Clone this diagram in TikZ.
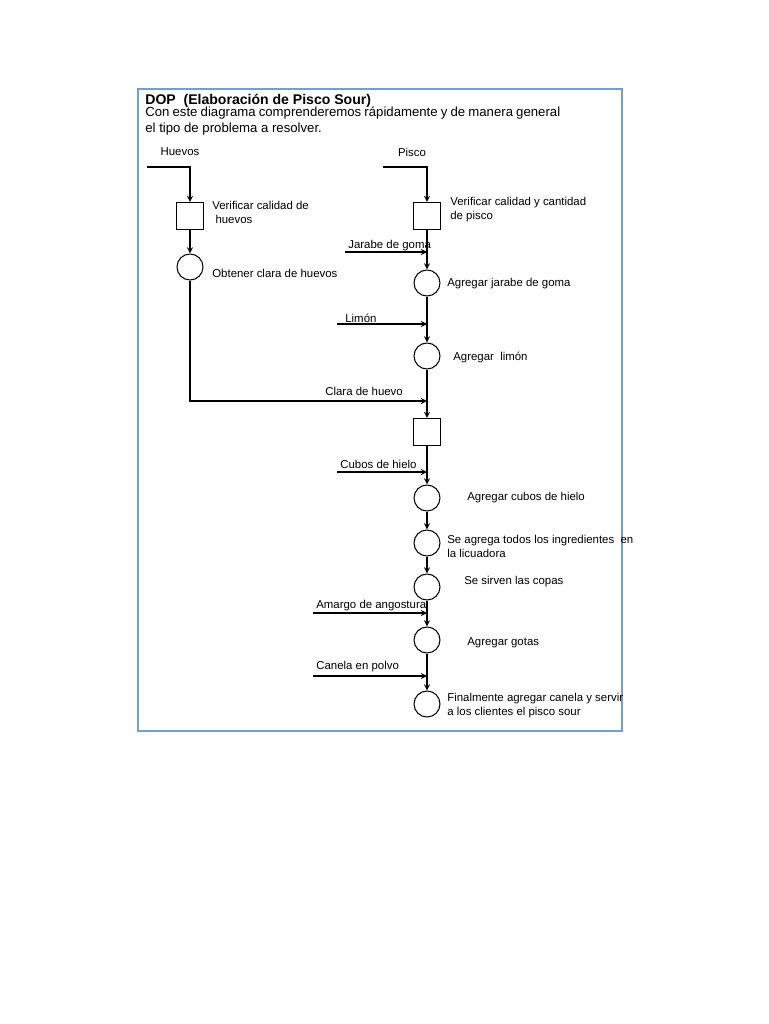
\documentclass[tikz,border=0pt]{standalone}
\usepackage{fontspec}
\setmainfont{Liberation Sans}
\begin{document}
\begin{tikzpicture}[x=0.02cm, y=-0.02cm, >=stealth, font=\fontsize{6.5}{8}\selectfont,
    op/.style={circle, draw, line width=0.6pt, minimum size=0.52cm, inner sep=0pt},
    insp/.style={rectangle, draw, line width=0.6pt, minimum size=0.54cm, inner sep=0pt},
    lbl/.style={anchor=west, align=left, inner sep=0pt},
    flow/.style={->, line width=0.6pt}]
    \useasboundingbox (0,0) rectangle (768,1024);
    \draw[color={rgb,255:red,110;green,160;blue,210}, line width=0.6pt] (138,89) rectangle (622,731);

    % Title.
    \node[lbl, font=\fontsize{8}{9}\selectfont\bfseries] (title) at (145,101) {DOP \ (Elaboración de Pisco Sour)};
    \node[lbl, font=\fontsize{7.5}{9}\selectfont, text width=8.3cm, align=justify] (intro) at (145,121)
        {Con este diagrama comprenderemos rápidamente y de manera general el tipo de problema a resolver.};

    % Left column.
    \node (huevos) at (180,152) {Huevos};
    \coordinate (h0) at (147,167);
    \coordinate (h1) at (190,167);
    \node[insp] (V_1) at (190,216) {};
    \node[lbl] at (212,212) {Verificar calidad de\\ \ huevos};
    \node[op] (O_1) at (190,267) {};
    \node[lbl] at (212,273) {Obtener clara de huevos};
    \coordinate (h2) at (190,401);

    % Right column.
    \node (pisco) at (412,152) {Pisco};
    \coordinate (p0) at (383,167);
    \coordinate (p1) at (427,167);
    \node[insp] (V_2) at (427,216) {};
    \node[lbl] at (450,210) {Verificar calidad y cantidad\\de pisco};
    \node[op] (O_2) at (427,283) {};
    \node[lbl] at (447,284) {Agregar jarabe de goma};
    \node[op] (O_3) at (427,356) {};
    \node[lbl] at (453,357) {Agregar \ limón};
    \node[insp] (V_3) at (427,432) {};
    \node[op] (O_4) at (427,498) {};
    \node[lbl] at (467,498) {Agregar cubos de hielo};
    \node[op] (O_5) at (427,543) {};
    \node[lbl] at (447,546) {Se agrega todos los ingredientes \ en\\la licuadora};
    \node[op] (O_6) at (427,587) {};
    \node[lbl] at (464,582) {Se sirven las copas};
    \node[op] (O_7) at (427,640) {};
    \node[lbl] at (467,643) {Agregar gotas};
    \node[op] (O_8) at (427,704) {};
    \node[lbl] at (447,706) {Finalmente agregar canela y servir\\a los clientes el pisco sour};

    % Inputs.
    \coordinate (j0) at (345,252); \coordinate (j1) at (427,252);
    \node[lbl] at (348,246) {Jarabe de goma};
    \coordinate (l0) at (337,324); \coordinate (l1) at (427,324);
    \node[lbl] at (345,318) {Limón};
    \coordinate (c1) at (427,401);
    \node[lbl] at (325,391) {Clara de huevo};
    \coordinate (k0) at (337,472); \coordinate (k1) at (427,472);
    \node[lbl] at (340,464) {Cubos de hielo};
    \coordinate (a0) at (313,613); \coordinate (a1) at (427,613);
    \node[lbl] at (316,606) {Amargo de angostura};
    \coordinate (e0) at (313,676); \coordinate (e1) at (427,676);
    \node[lbl] at (316,667) {Canela en polvo};

    % Flow lines.
    \draw[flow] (h0) -- (h1) -- (V_1);
    \draw[flow] (V_1) -- (O_1);
    \draw[flow] (O_1) -- (h2) -- (c1);
    \draw[flow] (p0) -- (p1) -- (V_2);
    \draw[flow] (V_2) -- (O_2);
    \draw[flow] (O_2) -- (O_3);
    \draw[flow] (O_3) -- (V_3);
    \draw[flow] (V_3) -- (O_4);
    \draw[flow] (O_4) -- (O_5);
    \draw[flow] (O_5) -- (O_6);
    \draw[flow] (O_6) -- (O_7);
    \draw[flow] (O_7) -- (O_8);
    \foreach \s/\t in {j0/j1, l0/l1, k0/k1, a0/a1, e0/e1}
        \draw[flow] (\s) -- (\t);
\end{tikzpicture}
\end{document}
